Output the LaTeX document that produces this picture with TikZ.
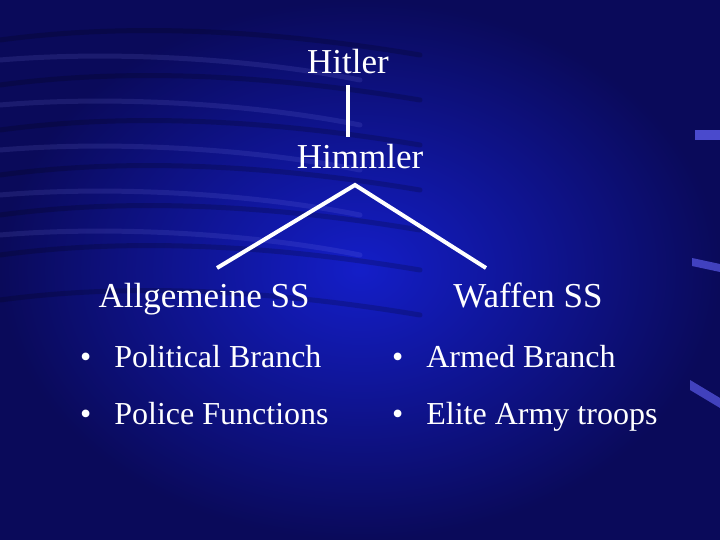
\documentclass[tikz,border=0pt]{standalone}
\usepackage{fontspec}
\setmainfont{Liberation Serif}
\begin{document}
\begin{tikzpicture}[x=1pt,y=-1pt,
  lbl/.style={text=white,font=\fontsize{35}{38}\selectfont,inner sep=0pt,anchor=base},
  item/.style={text=white,font=\fontsize{32}{34}\selectfont,inner sep=0pt,anchor=base west},
  conn/.style={white,line width=4pt},
  streak/.style={line width=5pt,opacity=0.18,line cap=round}]
\definecolor{bgdark}{RGB}{10,10,90}
\definecolor{bgmid}{RGB}{20,30,200}
\fill[inner color=bgmid,outer color=bgdark] (0,0) rectangle (720,540);
\useasboundingbox (0,0) rectangle (720,540);
\foreach \y in {40,85,130,175,215,255,300}
  \draw[streak,black] (0,\y) .. controls (150,\y-20) and (300,\y-5) .. (420,\y+15);
\foreach \y in {60,105,150,195,235}
  \draw[streak,white!60!blue,opacity=0.12] (0,\y) .. controls (120,\y-10) and (260,\y) .. (360,\y+20);
\fill[blue!60!white,opacity=0.7] (695,130) rectangle (720,140);
\fill[blue!60!white,opacity=0.6] (692,258) -- (720,264) -- (720,272) -- (692,266) -- cycle;
\fill[blue!60!white,opacity=0.6] (690,380) -- (720,398) -- (720,408) -- (690,390) -- cycle;
\node[lbl] (hitler) at (348,74) {Hitler};
\node[lbl] (himmler) at (360,169) {Himmler};
\node[lbl] (allg) at (204,307) {Allgemeine SS};
\node[lbl] (waffen) at (528,307) {Waffen SS};
\coordinate (t1) at (348,85);
\coordinate (t2) at (348,137);
\coordinate (apex) at (355,185);
\coordinate (l) at (217,268);
\coordinate (r) at (486,268);
\draw[conn] (t1) -- (t2);
\draw[conn,line join=miter] (l) -- (apex) -- (r);
\node[item] (a1) at (80,367) {•\hspace{23pt}Political Branch};
\node[item] (a2) at (80,424) {•\hspace{23pt}Police Functions};
\node[item] (b1) at (392,367) {•\hspace{23pt}Armed Branch};
\node[item] (b2) at (392,424) {•\hspace{23pt}Elite Army troops};
\end{tikzpicture}
\end{document}
